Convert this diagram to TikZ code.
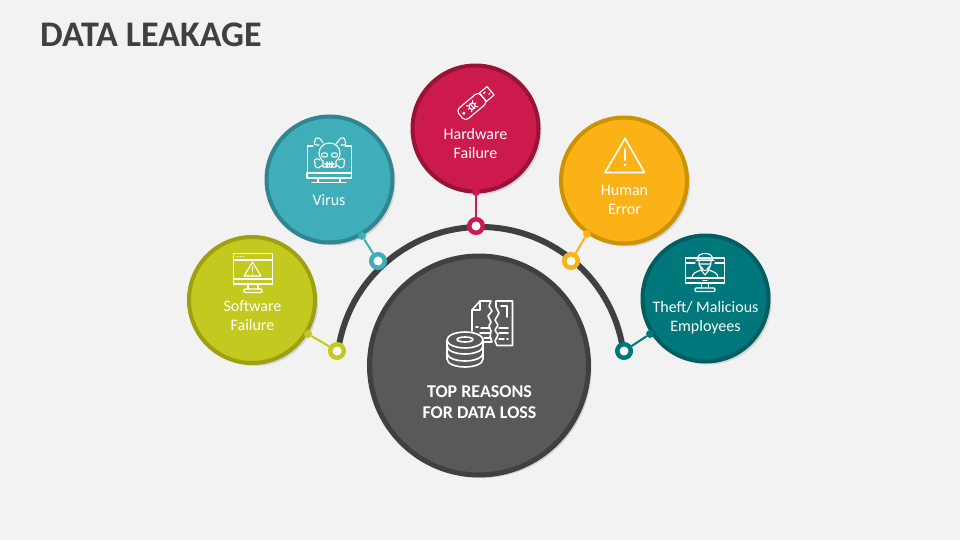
\documentclass[tikz,border=0pt]{standalone}
\usepackage{fontspec}
\setmainfont{Carlito}
\usetikzlibrary{shadows}
\definecolor{pagegray}{HTML}{F2F2F2}
\definecolor{darkarc}{HTML}{404040}
\definecolor{softfill}{HTML}{C3C91E}
\definecolor{softline}{HTML}{9BA110}
\definecolor{virusfill}{HTML}{3FAEB9}
\definecolor{virusline}{HTML}{2F8592}
\definecolor{hardfill}{HTML}{CB1A4B}
\definecolor{hardline}{HTML}{9A1238}
\definecolor{humanfill}{HTML}{FBB216}
\definecolor{humanline}{HTML}{CC9200}
\definecolor{theftfill}{HTML}{00777B}
\definecolor{theftline}{HTML}{005D60}
\definecolor{corefill}{HTML}{595959}
\tikzset{
  softshadow/.style={general shadow={shadow xshift=1.5pt,shadow yshift=-1.5pt,fill=black,opacity=.22,scale=1.01},
    general shadow={shadow xshift=3pt,shadow yshift=-3pt,fill=black,opacity=.12}},
  disc/.style={circle,inner sep=0pt,minimum size=126pt,line width=4pt,softshadow},
  ring/.style={circle,inner sep=0pt,minimum size=13.5pt,line width=4.5pt,fill=white},
  dot/.style={circle,inner sep=0pt,minimum size=8pt},
  link/.style={line width=2pt},
  caption/.style={align=center,text=white,font=\fontsize{16pt}{19pt}\selectfont},
  icon/.style={draw=white,line width=1.1pt,line join=round,line cap=round}
}
\begin{document}
\begin{tikzpicture}[x=1pt,y=-1pt]
\useasboundingbox [fill=pagegray] (0,0) rectangle (960,540);
\node (title) [anchor=west,text=darkarc,font=\fontsize{36pt}{36pt}\selectfont\bfseries,inner sep=0pt] at (40,34.5) {DATA LEAKAGE};

% big arc and centre
\coordinate (arcstart) at (339,345);
\draw [darkarc,line width=6pt] (arcstart) arc [start angle=169.6,end angle=10.4,radius=144pt];
\node (core) [circle,inner sep=0pt,minimum size=219pt,line width=5pt,draw=darkarc,fill=corefill,softshadow] at (479,365.5) {};

% discs
\node (soft) [disc,draw=softline,fill=softfill] at (252,300) {};
\node (virus) [disc,draw=virusline,fill=virusfill] at (329.5,179.5) {};
\node (hard) [disc,draw=hardline,fill=hardfill] at (475.5,128.5) {};
\node (human) [disc,draw=humanline,fill=humanfill] at (624,180.5) {};
\node (theft) [disc,draw=theftline,fill=theftfill] at (705.5,298.5) {};

% small dots and rings
\node (softdot) [dot,fill=softfill] at (308,334) {};
\node (virusdot) [dot,fill=virusfill] at (362,236) {};
\node (harddot) [dot,fill=hardfill] at (476,192) {};
\node (humandot) [dot,fill=humanfill] at (587,234) {};
\node (theftdot) [dot,fill=theftfill] at (650,334) {};
\node (softring) [ring,draw=softfill] at (337,351) {};
\node (virusring) [ring,draw=virusfill] at (378,261) {};
\node (hardring) [ring,draw=hardfill] at (476,226) {};
\node (humanring) [ring,draw=humanfill] at (571,261) {};
\node (theftring) [ring,draw=theftfill] at (624,351) {};
\draw [link,softfill] (softdot) -- (softring);
\draw [link,virusfill] (virusdot) -- (virusring);
\draw [link,hardfill] (harddot) -- (hardring);
\draw [link,humanfill] (humandot) -- (humanring);
\draw [link,theftfill] (theftdot) -- (theftring);

% texts
\node (softtext) [caption] at (252.5,316) {Software\\Failure};
\node (virustext) [caption] at (329,200.5) {Virus};
\node (hardtext) [caption] at (475.5,144) {Hardware\\Failure};
\node (humantext) [caption] at (624.5,200) {Human\\Error};
\node (thefttext) [caption] at (705.5,318) {Theft/ Malicious\\Employees};
\node (coretext) [caption,font=\fontsize{18pt}{21.5pt}\selectfont\bfseries] at (479.5,402) {TOP REASONS\\FOR DATA LOSS};

% software icon
\draw [icon] (233.5,253.5) rectangle (272.5,284);
\draw [icon] (233.5,260) -- (272.5,260) (233.5,279) -- (272.5,279);
\draw [icon] (237,256.7) -- (237.5,256.7) (240,256.7) -- (240.5,256.7) (243,256.7) -- (243.5,256.7);
\draw [icon] (252.5,262) -- (261,276) -- (244,276) -- cycle;
\draw [icon] (252.5,267) -- (252.5,271.5) (252.5,273.7) -- (252.5,274);
\draw [icon] (248,284) -- (248,289) (258,284) -- (258,289);
\draw [icon,rounded corners=1pt] (244,289) rectangle (262,292.5);

% virus icon
\draw [icon] (313,146) -- (307.5,146) -- (307.5,173) (345,146) -- (351.5,146) -- (351.5,173);
\draw [icon] (307,173) rectangle (351.5,178);
\draw [icon] (318,178) -- (318,182) (340,178) -- (340,182) (312,182.5) -- (346,182.5);
\draw [icon] (329.5,143) .. controls (336,143) and (340,148) .. (340,153) .. controls (340,158) and (337,160) .. (336,161) -- (336,167) -- (323,167) -- (323,161) .. controls (322,160) and (319,158) .. (319,153) .. controls (319,148) and (323,143) .. (329.5,143) -- cycle;
\draw [icon] (324.5,155) ellipse (3.2 and 2.2) (334.5,155) ellipse (3.2 and 2.2);
\draw [icon] (327,162) -- (327,167) (329.5,162) -- (329.5,167) (332,162) -- (332,167) (325,164) -- (334,164);
\draw [icon] (319,145) .. controls (315,146) and (313,143) .. (315,141) .. controls (314,137) and (320,137) .. (321,140) -- (323,143);
\draw [icon] (341,145) .. controls (345,146) and (347,143) .. (345,141) .. controls (346,137) and (340,137) .. (339,140) -- (336,144);
\draw [icon] (320,160) .. controls (316,157) and (313,160) .. (315,163) .. controls (313,167) and (319,170) .. (321,166) -- (323,165);
\draw [icon] (339,160) .. controls (343,157) and (346,160) .. (344,163) .. controls (346,167) and (340,170) .. (338,166) -- (336,165);

% hardware icon
\begin{scope}[shift={(476,103)},rotate=40]
\draw [icon,rounded corners=4pt] (-20,7) -- (-20,-7) -- (9,-7) -- (9,7) -- cycle;
\draw [icon] (9,-5.5) rectangle (19,5.5);
\draw [icon] (12,-2.5) -- (14,-2.5) (15.5,1.5) -- (17,1.5);
\draw [icon] (-5,0) circle (3.2);
\draw [icon] (-5,-3.2) -- (-5,3.2) (-9,-4) -- (-7,-2) (-1,-4) -- (-3,-2) (-9,4) -- (-7,2) (-1,4) -- (-3,2) (-10,0) -- (-8,0) (0,0) -- (-2,0);
\draw [icon] (-16,0) circle (1);
\end{scope}

% human icon
\draw [icon,line width=1.6pt] (625,138.5) -- (644.5,172.5) -- (605,172.5) -- cycle;
\draw [icon,line width=1.6pt] (625,149) -- (625,160);
\fill [white] (625,165) circle (1.3pt);

% theft icon
\draw [icon] (685.5,258) rectangle (724.5,283);
\draw [icon] (685.5,263) -- (695,263) (715,263) -- (724.5,263) (685.5,278) -- (724.5,278);
\draw [icon] (697.5,260) .. controls (697,255) and (701,253.5) .. (705,253.5) .. controls (709,253.5) and (713,255) .. (712.5,260) -- cycle;
\draw [icon] (696,260.5) -- (714,260.5);
\draw [icon] (699,261) .. controls (699,268) and (702,270.5) .. (705,270.5) .. controls (708,270.5) and (711,268) .. (711,261);
\draw [icon] (699,264) -- (711,264) (700,266) -- (703,269) (710,266) -- (707,269);
\draw [icon] (692,278) .. controls (692,273) and (696,272) .. (701,270) (718,278) .. controls (718,273) and (714,272) .. (709,270);
\draw [icon] (701,270) -- (705,275) -- (709,270);
\draw [icon] (703,280.5) -- (707,280.5);
\draw [icon] (701.5,283) -- (701.5,288) (708.5,283) -- (708.5,288);
\draw [icon,rounded corners=1pt] (695,288) rectangle (715,291.5);

% core icon
\begin{scope}[icon/.append style={line width=1.6pt}]
\draw [icon] (472,310) -- (480,301) -- (491,301) -- (489,306) -- (492,311) -- (488,316) -- (491,322) -- (489,326) -- (491,331) -- (490,337) -- (492,342) -- (484,342);
\draw [icon] (472,310) -- (472,331);
\draw [icon] (480,301) -- (480,310) -- (472,310);
\draw [icon] (496,301) -- (512.5,301) -- (512.5,345.5) -- (497,345.5) -- (495,341) -- (498,335) -- (495,330) -- (498,325) -- (495,320) -- (499,313) -- (496,307) -- cycle;
\draw [icon] (501,306) -- (507,306) -- (507,317);
\draw [icon] (476,327) -- (478,327) (481,328) -- (490,328) (480,333) -- (490,333) (484,338) -- (491,338) (499,328) -- (508,328) (499,333) -- (508,333) (499,339) -- (504,339) (507,339) -- (508,339);
\draw [icon,fill=corefill] (465,340) ellipse (18 and 8);
\draw [icon] (465,339.5) ellipse (8 and 2.5);
\draw [icon] (447,340) -- (447,359) .. controls (447,364) and (456,367) .. (465,367) .. controls (474,367) and (483,364) .. (483,359) -- (483,340);
\draw [icon] (447,346) .. controls (447,351) and (456,354) .. (465,354) .. controls (474,354) and (483,351) .. (483,346);
\draw [icon] (447,353) .. controls (447,358) and (456,361) .. (465,361) .. controls (474,361) and (483,358) .. (483,353);
\end{scope}
\end{tikzpicture}
\end{document}
